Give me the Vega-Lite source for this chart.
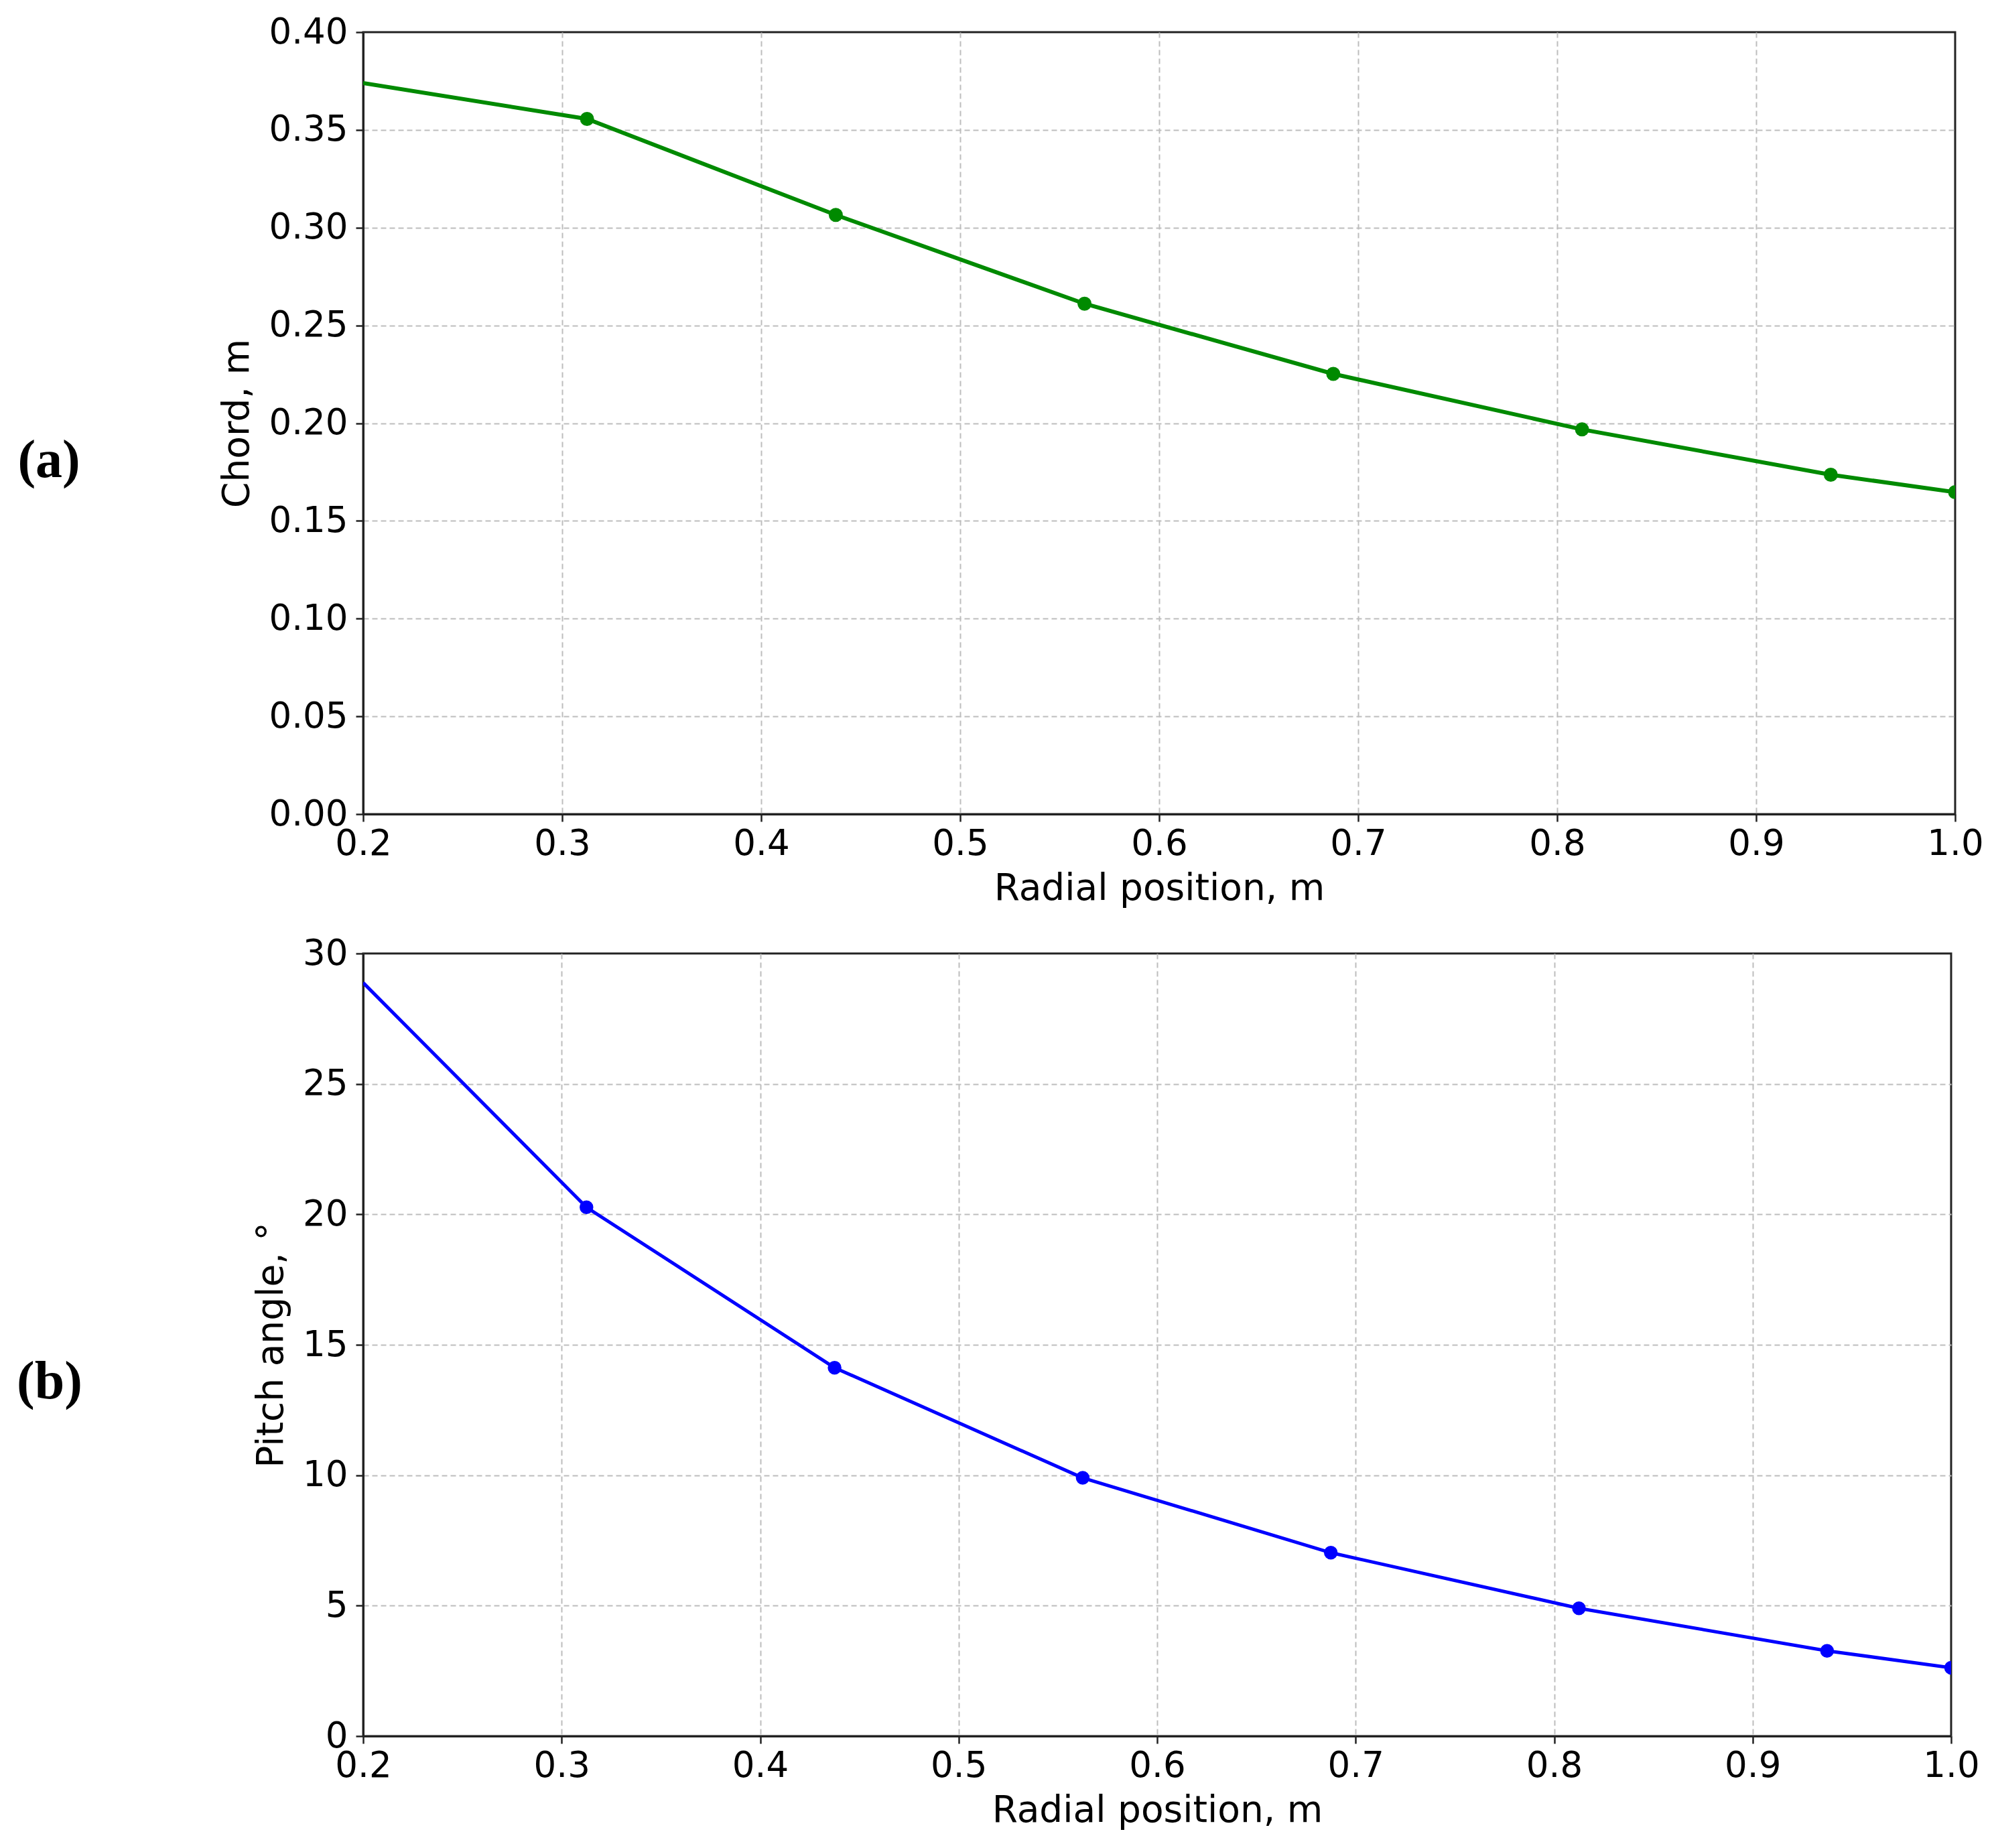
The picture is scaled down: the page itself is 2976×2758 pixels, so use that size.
{
  "$schema": "https://vega.github.io/schema/vega-lite/v6.json",
  "padding": {"left": 23, "top": 20, "right": 10, "bottom": 10},
  "background": "white",
  "datasets": {
    "blade": [
      {"r": 0.2, "chord": 0.374, "pitch": 28.88},
      {"r": 0.3125, "chord": 0.3556, "pitch": 20.27},
      {"r": 0.4375, "chord": 0.3065, "pitch": 14.12},
      {"r": 0.5625, "chord": 0.2611, "pitch": 9.9},
      {"r": 0.6875, "chord": 0.2252, "pitch": 7.03},
      {"r": 0.8125, "chord": 0.1968, "pitch": 4.9},
      {"r": 0.9375, "chord": 0.1736, "pitch": 3.27},
      {"r": 1.0, "chord": 0.1647, "pitch": 2.62}
    ]
  },
  "columns": 1,
  "align": "none",
  "spacing": 40,
  "concat": [
    {
      "width": 2376,
      "height": 1167,
      "title": {
        "text": "(a)",
        "orient": "left",
        "anchor": "middle",
        "frame": "bounds",
        "angle": 0,
        "align": "right",
        "baseline": "middle",
        "offset": 114,
        "font": "Liberation Serif",
        "fontSize": 80,
        "fontWeight": "bold",
        "color": "black"
      },
      "data": {"name": "blade"},
      "layer": [
        {
          "mark": {"type": "line", "color": "#008a00", "strokeWidth": 6, "clip": true},
          "encoding": {
            "x": {
              "field": "r",
              "type": "quantitative",
              "scale": {"domain": [0.2, 1.0], "nice": false, "zero": false},
              "axis": {
                "title": "Radial position, m",
                "values": [0.2, 0.3, 0.4, 0.5, 0.6, 0.7, 0.8, 0.9, 1.0],
                "format": ".1f",
                "gridOpacity": {"condition": {"test": "datum.value > 0.99", "value": 0}, "value": 1}
              }
            },
            "y": {
              "field": "chord",
              "type": "quantitative",
              "scale": {"domain": [0, 0.4], "nice": false},
              "axis": {
                "title": "Chord, m",
                "values": [0, 0.05, 0.1, 0.15, 0.2, 0.25, 0.3, 0.35, 0.4],
                "format": ".2f",
                "gridOpacity": {"condition": {"test": "datum.value > 0.39", "value": 0}, "value": 1}
              }
            }
          }
        },
        {
          "transform": [{"filter": "datum.r > 0.25"}],
          "mark": {"type": "circle", "color": "#008a00", "size": 440, "opacity": 1, "clip": true},
          "encoding": {
            "x": {"field": "r", "type": "quantitative"},
            "y": {"field": "chord", "type": "quantitative"}
          }
        }
      ]
    },
    {
      "width": 2370,
      "height": 1168,
      "title": {
        "text": "(b)",
        "orient": "left",
        "anchor": "middle",
        "frame": "bounds",
        "angle": 0,
        "align": "right",
        "baseline": "middle",
        "offset": 157,
        "font": "Liberation Serif",
        "fontSize": 80,
        "fontWeight": "bold",
        "color": "black"
      },
      "data": {"name": "blade"},
      "layer": [
        {
          "mark": {"type": "line", "color": "#0000ff", "strokeWidth": 5, "clip": true},
          "encoding": {
            "x": {
              "field": "r",
              "type": "quantitative",
              "scale": {"domain": [0.2, 1.0], "nice": false, "zero": false},
              "axis": {
                "title": "Radial position, m",
                "values": [0.2, 0.3, 0.4, 0.5, 0.6, 0.7, 0.8, 0.9, 1.0],
                "format": ".1f",
                "gridOpacity": {"condition": {"test": "datum.value > 0.99", "value": 0}, "value": 1}
              }
            },
            "y": {
              "field": "pitch",
              "type": "quantitative",
              "scale": {"domain": [0, 30], "nice": false},
              "axis": {
                "title": "Pitch angle, °",
                "values": [0, 5, 10, 15, 20, 25, 30],
                "format": "d",
                "gridOpacity": {"condition": {"test": "datum.value > 29", "value": 0}, "value": 1}
              }
            }
          }
        },
        {
          "transform": [{"filter": "datum.r > 0.25"}],
          "mark": {"type": "circle", "color": "#0000ff", "size": 420, "opacity": 1, "clip": true},
          "encoding": {
            "x": {"field": "r", "type": "quantitative"},
            "y": {"field": "pitch", "type": "quantitative"}
          }
        }
      ]
    }
  ],
  "config": {
    "font": "DejaVu Sans",
    "view": {"stroke": "#222222", "strokeWidth": 3},
    "axis": {
      "domain": true,
      "domainColor": "#222222",
      "domainWidth": 3,
      "grid": true,
      "gridColor": "#bdbdbd",
      "gridDash": [8, 5],
      "gridWidth": 2,
      "ticks": true,
      "tickColor": "#222222",
      "tickWidth": 2.5,
      "tickSize": 11,
      "labelFont": "DejaVu Sans",
      "labelFontSize": 53,
      "labelColor": "black",
      "labelPadding": 12,
      "labelOverlap": false,
      "labelFlush": false,
      "labelBound": false,
      "titleFont": "DejaVu Sans",
      "titleFontSize": 55,
      "titleFontWeight": "normal",
      "titleColor": "black"
    },
    "axisX": {"labelPadding": 7, "titlePadding": 13},
    "axisY": {"titlePadding": 18}
  }
}
